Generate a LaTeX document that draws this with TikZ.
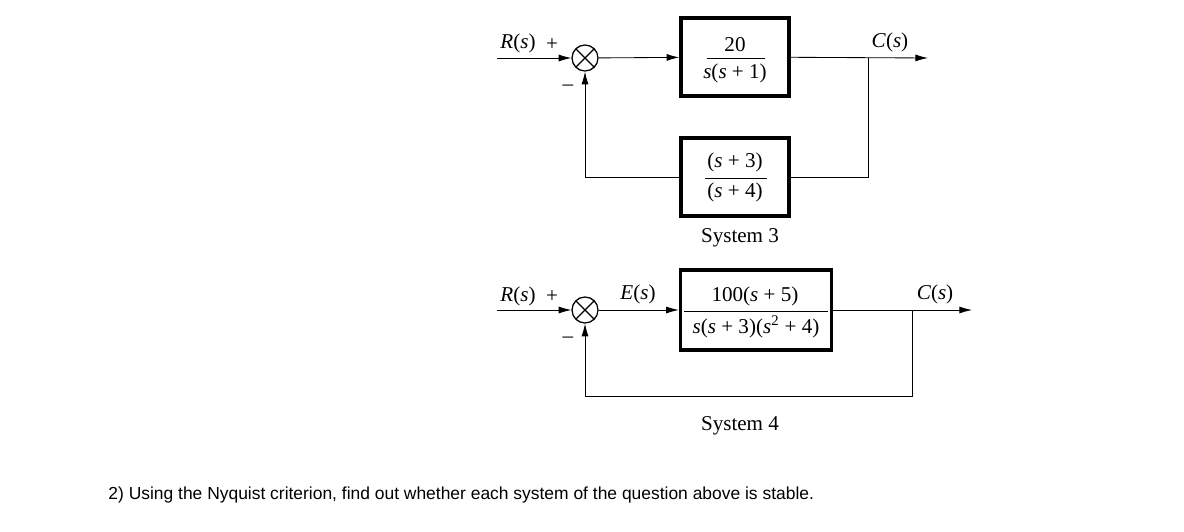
\documentclass[tikz,border=0pt]{standalone}
\usepackage{fontspec}
\setmainfont{Liberation Serif}
\newfontfamily\arialf{Liberation Sans}
\usetikzlibrary{arrows.meta}
\newcommand{\iv}[1]{\textit{#1}}
\begin{document}
\begin{tikzpicture}[x=0.025cm,y=-0.025cm,line width=0.6pt,
  lbl/.style={font=\fontsize{15}{17}\selectfont,inner sep=0},
  blk/.style={draw,line width=2.5pt,inner sep=0},
  sumj/.style={draw,line width=0.9pt,circle,minimum size=26*0.025cm,inner sep=0,path picture={\draw[line width=0.9pt] (path picture bounding box.north west)--(path picture bounding box.south east) (path picture bounding box.north east)--(path picture bounding box.south west);}},
  sig/.style={-{Latex[length=9pt,width=5pt]}},
  ln/.style={}]
\useasboundingbox (0,0) rectangle (1184,532);
% System 3
\node[sumj] (s1) at (585,58) {};
\coordinate (r1) at (497,58);
\node[blk,minimum width=108*0.025cm,minimum height=78*0.025cm] (g1) at (735,57) {};
\node[lbl] at (735,45) {20};
\draw[thin] (707,58)--(765,58);
\node[lbl] at (735,73) {\iv{s}(\iv{s} + 1)};
\node[blk,minimum width=108*0.025cm,minimum height=78*0.025cm] (h1) at (735,177) {};
\node[lbl] at (735,162) {(\iv{s} + 3)};
\draw[thin] (705,178)--(767,178);
\node[lbl] at (735,192) {(\iv{s} + 4)};
\coordinate (c1) at (928,58);
\coordinate (b1) at (868,58);
\draw[sig] (r1)--(s1);
\draw[sig] (s1)--(g1);
\draw[sig] (g1)--(c1);
\draw[ln] (b1)|-(h1.east);
\draw[sig] (h1.west)-|(s1.south);
\node[lbl] at (518,43) {\iv{R}(\iv{s})};
\node[lbl] at (552,45) {+};
\node[lbl] at (568,88) {\textendash};
\node[lbl] at (890,42) {\iv{C}(\iv{s})};
\node[lbl] at (740,238) {System 3};
% System 4
\node[sumj] (s2) at (585,310) {};
\coordinate (r2) at (497,310);
\node[blk,minimum width=151*0.025cm,minimum height=80*0.025cm] (g2) at (756,310) {};
\node[lbl] at (755,296) {100(\iv{s} + 5)};
\draw[thin] (684,311)--(828,311);
\node[lbl] at (756,327) {\iv{s}(\iv{s} + 3)(\iv{s}\textsuperscript{2} + 4)};
\coordinate (c2) at (972,310);
\coordinate (b2) at (912,310);
\coordinate (f2) at (912,396);
\draw[sig] (r2)--(s2);
\draw[sig] (s2)--(g2);
\draw[sig] (g2)--(c2);
\draw[sig] (b2)--(f2)-|(s2.south);
\node[lbl] at (518,296) {\iv{R}(\iv{s})};
\node[lbl] at (552,297) {+};
\node[lbl] at (638,294) {\iv{E}(\iv{s})};
\node[lbl] at (568,340) {\textendash};
\node[lbl] at (935,294) {\iv{C}(\iv{s})};
\node[lbl] at (740,426) {System 4};
\node[anchor=west,inner sep=0,font=\arialf\fontsize{12.4}{14}\selectfont] (q) at (108,495) {2) Using the Nyquist criterion, find out whether each system of the question above is stable.};
\end{tikzpicture}
\end{document}
